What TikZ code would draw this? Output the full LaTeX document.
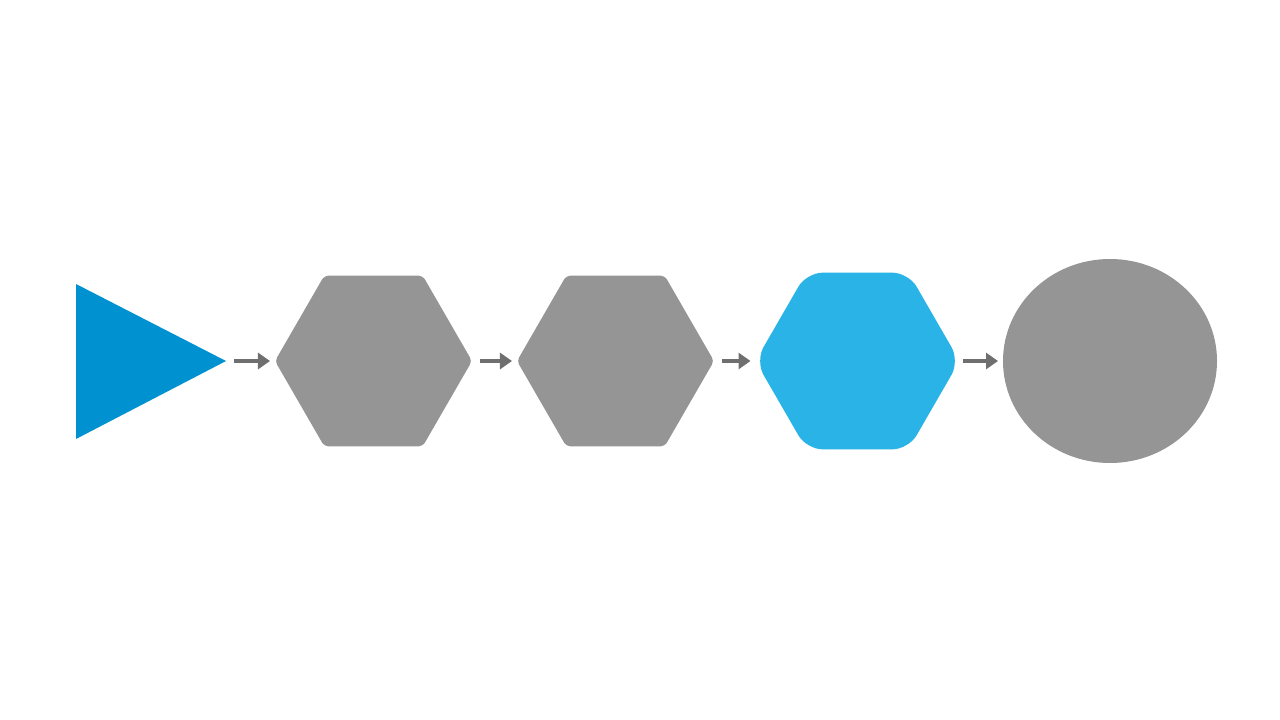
\documentclass[tikz,border=0pt]{standalone}
\usetikzlibrary{shapes.geometric,arrows.meta}
\definecolor{triblue}{HTML}{0091D0}
\definecolor{hexgray}{HTML}{959595}
\definecolor{hexblue}{HTML}{29B3E6}
\definecolor{arrowgray}{HTML}{6F6F6F}
\tikzset{
  hexbox/.style={regular polygon, regular polygon sides=6, inner sep=0pt, outer sep=0pt, minimum size=#1},
  arrowline/.style={draw=arrowgray, line width=4.5pt, -{Triangle[length=12pt,width=16pt]}, shorten <=8pt, shorten >=5pt}
}
\begin{document}
\begin{tikzpicture}[x=1pt,y=1pt]
\useasboundingbox[fill=white] (0,0) rectangle (1280,-720);
% triangle
\fill[triblue] (76,-284) -- (226,-361) -- (76,-439) -- cycle;
\coordinate (tri) at (226,-361);
% hexagons
\node[hexbox=197pt, fill=hexgray, rounded corners=4pt] (h1) at (373.5,-361) {};
\node[hexbox=197pt, fill=hexgray, rounded corners=4pt] (h2) at (615.5,-361) {};
\node[hexbox=204pt, fill=hexblue, rounded corners=16pt] (h3) at (857.5,-361) {};
% ellipse
\node[ellipse, fill=hexgray, inner sep=0pt, outer sep=0pt, minimum width=214pt, minimum height=204pt] (c) at (1110,-361) {};
% arrows
\draw[arrowline] (tri) -- (h1.west);
\draw[arrowline] (h1.east) -- (h2.west);
\draw[arrowline] (h2.east) -- (h3.west);
\draw[arrowline, shorten <=3pt] (h3.east) -- (c.west);
\end{tikzpicture}
\end{document}
